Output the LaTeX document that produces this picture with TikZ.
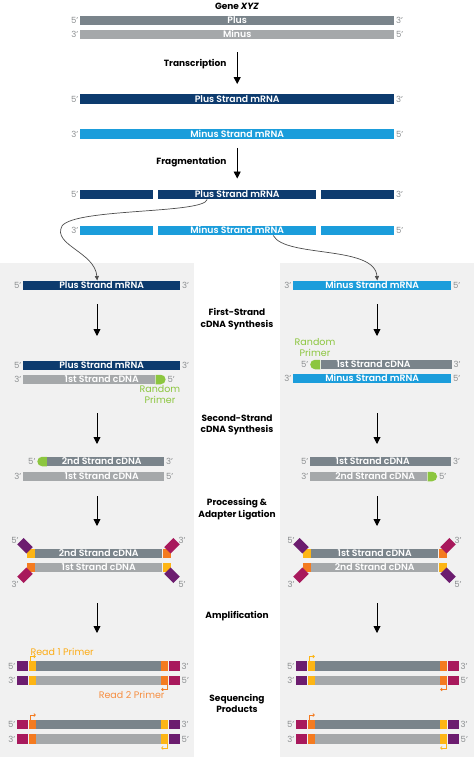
\documentclass[tikz,border=0pt]{standalone}
\usepackage{fontspec}
\setmainfont{Poppins}
\newfontfamily\medfont{Poppins SemiBold}
\usetikzlibrary{arrows.meta,positioning,shapes.misc}

\definecolor{plusgray}{HTML}{7A848B}
\definecolor{minusgray}{HTML}{A5A8AA}
\definecolor{navy}{HTML}{0D3B6E}
\definecolor{skyblue}{HTML}{1B9DDB}
\definecolor{primergreen}{HTML}{8CC63F}
\definecolor{adyellow}{HTML}{FDB515}
\definecolor{adorange}{HTML}{F47B20}
\definecolor{adpurple}{HTML}{6C1D6F}
\definecolor{admagenta}{HTML}{A8195C}
\definecolor{panelgray}{HTML}{F1F1F1}
\definecolor{lblgray}{HTML}{8B8E90}
\definecolor{linkgray}{HTML}{4D4D4D}

\newcommand\barfnt{\medfont\fontsize{9.3}{10}\selectfont}
\newcommand\headfnt{\bfseries\fontsize{9}{11.5}\selectfont}
\newcommand\lblfnt{\fontsize{8.5}{9}\selectfont}
\newcommand\txtfnt{\fontsize{9.5}{11}\selectfont}

\tikzset{
  strand/.style={anchor=west, minimum height=9.5pt, inner sep=0pt, text=white,
                 font=\barfnt, text height=6.8pt, text depth=0pt},
  seg/.style={anchor=west, minimum height=9.5pt, inner sep=0pt},
  primer/.style={seg, fill=primergreen, rounded rectangle},
  endlbl/.style={text=lblgray, font=\lblfnt, inner sep=1.5pt},
  stephead/.style={font=\headfnt, align=center},
  randtxt/.style={text=primergreen, font=\txtfnt, align=center},
  readtxt/.style={font=\txtfnt},
  steparrow/.style={-{Triangle[length=7pt,width=7pt]}, line width=0.9pt},
  link/.style={-{Triangle[length=4.5pt,width=4pt]}, draw=linkgray, line width=0.7pt},
  adapter/.style={minimum width=13pt, minimum height=9pt, inner sep=0pt},
  primarrow/.style={-{Straight Barb[length=1.5pt,width=3pt]}, line width=0.8pt}
}

\begin{document}
\begin{tikzpicture}[x=1pt,y=-1pt]
  \useasboundingbox (0,0) rectangle (474,759);
  % panels
  \fill[panelgray] (0,263) rectangle (194,757);
  \fill[panelgray] (280,263) rectangle (474,757);

  % gene
  \node[stephead] (gene) at (237,6) {Gene \textit{XYZ}};
  \node[strand, fill=plusgray, minimum width=314pt,
        label={[endlbl]left:5’}, label={[endlbl]right:3’}] (plus) at (80,20.5) {Plus};
  \node[strand, fill=minusgray, minimum width=314pt,
        label={[endlbl]left:3’}, label={[endlbl]right:5’}] (minus) at (80,34.5) {Minus};

  % transcription
  \node[strand, fill=navy, minimum width=314pt,
        label={[endlbl]left:5’}, label={[endlbl]right:3’}] (mrnaP) at (80,99) {Plus Strand mRNA};
  \node[strand, fill=skyblue, minimum width=314pt,
        label={[endlbl]left:3’}, label={[endlbl]right:5’}] (mrnaM) at (80,134) {Minus Strand mRNA};
  \draw[steparrow] ([yshift=-13pt]minus.south) -- ([yshift=10pt]mrnaP.north)
     node[stephead, pos=0.38, left=7pt] (txn) {Transcription};

  % fragments
  \node[strand, fill=navy, minimum width=73pt, label={[endlbl]left:5’}] (fP1) at (80,194.5) {};
  \node[strand, fill=navy, minimum width=158pt] (fP2) at (158,194.5) {Plus Strand mRNA};
  \node[strand, fill=navy, minimum width=73pt, label={[endlbl]right:3’}] (fP3) at (321,194.5) {};
  \node[strand, fill=skyblue, minimum width=73pt, label={[endlbl]left:3’}] (fM1) at (80,230.5) {};
  \node[strand, fill=skyblue, minimum width=158pt] (fM2) at (158,230.5) {Minus Strand mRNA};
  \node[strand, fill=skyblue, minimum width=73pt, label={[endlbl]right:5’}] (fM3) at (321,230.5) {};
  \draw[steparrow] ([yshift=-9pt]mrnaM.south) -- ([yshift=11pt]fP2.north)
     node[stephead, pos=0.45, left=7pt] (frag) {Fragmentation};

  % left panel
  \node[strand, fill=navy, minimum width=157pt,
        label={[endlbl]left:5’}, label={[endlbl]right:3’}] (pL1) at (23,285.5) {Plus Strand mRNA};
  \node[strand, fill=navy, minimum width=157pt,
        label={[endlbl]left:5’}, label={[endlbl]right:3’}] (pL2) at (23,365.5) {Plus Strand mRNA};
  \node[strand, fill=minusgray, minimum width=132pt, label={[endlbl]left:3’}] (cL1) at (23,379.5)
        {\hspace*{25pt}1st Strand cDNA};
  \node[primer, minimum width=10pt, rounded rectangle west arc=none, right=0pt of cL1,
        label={[endlbl]right:5’}] (gL1) {};
  \node[randtxt] (rpL) at (160,394.5) {Random\\Primer};
  \node[strand, fill=plusgray, minimum width=117pt, label={[endlbl]right:3’}] (cL2) at (47,461.5)
        {2nd Strand cDNA\hspace*{8pt}};
  \node[primer, minimum width=8pt, rounded rectangle east arc=none, left=0pt of cL2,
        label={[endlbl]left:5’}] (gL2) {};
  \node[strand, fill=minusgray, minimum width=141pt,
        label={[endlbl]left:3’}, label={[endlbl]right:5’}] (cL3) at (23,476.5)
        {\hspace*{16pt}1st Strand cDNA};

  % right panel
  \node[strand, fill=skyblue, minimum width=158pt,
        label={[endlbl]left:3’}, label={[endlbl]right:5’}] (mR1) at (293,285.5) {Minus Strand mRNA};
  \node[randtxt] (rpR) at (315,347.5) {Random\\Primer};
  \node[primer, minimum width=10pt, rounded rectangle east arc=none,
        label={[endlbl]left:5’}] (gR1) at (310,364.5) {};
  \node[strand, fill=plusgray, minimum width=131pt, right=0pt of gR1,
        label={[endlbl]right:3’}] (cR1) {1st Strand cDNA\hspace*{25pt}};
  \node[strand, fill=skyblue, minimum width=158pt,
        label={[endlbl]left:3’}, label={[endlbl]right:5’}] (mR2) at (293,378.5) {Minus Strand mRNA};
  \node[strand, fill=plusgray, minimum width=141pt,
        label={[endlbl]left:5’}, label={[endlbl]right:3’}] (cR2) at (310,461.5)
        {1st Strand cDNA\hspace*{16pt}};
  \node[strand, fill=minusgray, minimum width=117pt, label={[endlbl]left:3’}] (cR3) at (310,476.5)
        {\hspace*{13pt}2nd Strand cDNA};
  \node[primer, minimum width=9pt, rounded rectangle west arc=none, right=0pt of cR3,
        label={[endlbl]right:5’}] (gR3) {};

  % links into the panels
  \draw[link] ([xshift=-30pt]fP2.south) .. controls (204,214) and (75,208) .. (62,226)
        .. controls (52,245) and (95,252) .. ([xshift=-4.5pt]pL1.north);
  \draw[link] ([xshift=36pt]fM2.south) .. controls (285,258) and (375,245) .. ([xshift=5pt]mR1.north);

  % step arrows
  \foreach \i/\ya/\yb in {1/304/336, 2/413/444, 3/496/526, 4/603/633} {
    \coordinate (aL\i) at (97,\ya);  \coordinate (bL\i) at (97,\yb);
    \coordinate (aR\i) at (377,\ya); \coordinate (bR\i) at (377,\yb);
    \draw[steparrow] (aL\i) -- (bL\i);
    \draw[steparrow] (aR\i) -- (bR\i);
  }

  % step names
  \node[stephead] (fs) at (237,319) {First-Strand\\cDNA Synthesis};
  \node[stephead] (ss) at (237,425) {Second-Strand\\cDNA Synthesis};
  \node[stephead] (pa) at (237,509) {Processing \&\\Adapter Ligation};
  \node[stephead] (am) at (237,616) {Amplification};
  \node[stephead] (sq) at (237,703.5) {Sequencing\\Products};

  % adapter ligation
  \foreach \ox/\ttop/\tbot in {0/2nd Strand cDNA/1st Strand cDNA, 276/1st Strand cDNA/2nd Strand cDNA} {
    \node[strand, fill=plusgray, minimum width=127pt] (adT\ox) at (35+\ox,553.5) {\ttop};
    \node[strand, fill=minusgray, minimum width=127pt] (adB\ox) at (35+\ox,567.5) {\tbot};
    \node[seg, fill=adyellow, minimum width=8pt, left=0pt of adT\ox] (yT\ox) {};
    \node[seg, fill=adorange, minimum width=8pt, right=0pt of adT\ox] (oT\ox) {};
    \node[seg, fill=adorange, minimum width=8pt, left=0pt of adB\ox] (oB\ox) {};
    \node[seg, fill=adyellow, minimum width=8pt, right=0pt of adB\ox] (yB\ox) {};
    \node[adapter, fill=adpurple, rotate=-45] (pTL\ox) at (25+\ox,545.75) {};
    \node[adapter, fill=admagenta, rotate=45] (mTR\ox) at (172+\ox,545.75) {};
    \node[adapter, fill=admagenta, rotate=45] (mBL\ox) at (25+\ox,575.25) {};
    \node[adapter, fill=adpurple, rotate=-45] (pBR\ox) at (172+\ox,575.25) {};
    \node[endlbl] (lTL\ox) at (15+\ox,540) {5’};
    \node[endlbl] (lTR\ox) at (182+\ox,540) {3’};
    \node[endlbl] (lBL\ox) at (15+\ox,584) {3’};
    \node[endlbl] (lBR\ox) at (182+\ox,584) {5’};
  }

  % amplification and sequencing products
  \foreach \ox in {0,279} {
    \foreach \r/\y/\mid/\ca/\cb/\cc/\cd/\la/\lb in {
        a/666/plusgray/adpurple/adyellow/adorange/admagenta/5’/3’,
        b/680.5/minusgray/adpurple/adyellow/adorange/admagenta/3’/5’,
        c/724.5/plusgray/admagenta/adorange/adyellow/adpurple/5’/3’,
        d/739/minusgray/admagenta/adorange/adyellow/adpurple/3’/5’} {
      \node[seg, fill=\ca, minimum width=11pt, label={[endlbl]left:\la}] (\r-1-\ox) at (17+\ox,\y) {};
      \node[seg, fill=\cb, minimum width=7pt, right=0pt of \r-1-\ox] (\r-2-\ox) {};
      \node[seg, fill=\mid, minimum width=125pt, right=0pt of \r-2-\ox] (\r-3-\ox) {};
      \node[seg, fill=\cc, minimum width=7pt, right=0pt of \r-3-\ox] (\r-4-\ox) {};
      \node[seg, fill=\cd, minimum width=11pt, right=0pt of \r-4-\ox,
            label={[endlbl]right:\lb}] (\r-5-\ox) {};
    }
    \draw[primarrow, adyellow] ([xshift=1.5pt]a-2-\ox.north west) -- ++(0,-4.5) -- ++(6,0);
    \draw[primarrow, adorange] ([xshift=-1.5pt]b-4-\ox.south east) -- ++(0,4) -- ++(-6,0);
    \draw[primarrow, adorange] ([xshift=1.5pt]c-2-\ox.north west) -- ++(0,-4.5) -- ++(6,0);
    \draw[primarrow, adyellow] ([xshift=-1.5pt]d-4-\ox.south east) -- ++(0,4) -- ++(-6,0);
  }
  \node[readtxt, text=adyellow!85!adorange, anchor=west] (rd1) at (27,652) {Read 1 Primer};
  \node[readtxt, text=adorange!85, anchor=east] (rd2) at (168,694.5) {Read 2 Primer};
\end{tikzpicture}
\end{document}
